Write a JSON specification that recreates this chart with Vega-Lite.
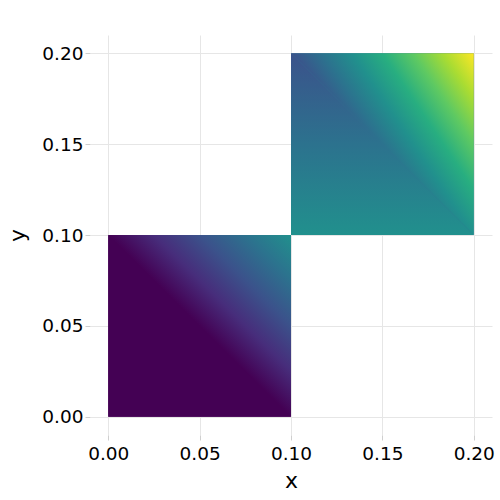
{
  "$schema": "https://vega.github.io/schema/vega-lite/v6.json",
  "autosize": {"type": "none"},
  "width": 402,
  "height": 400,
  "padding": {"left": 90, "top": 35, "right": 8, "bottom": 65},
  "background": "white",
  "config": {
    "view": {"stroke": null},
    "axis": {
      "domain": false,
      "gridColor": "#e6e6e6",
      "gridWidth": 1,
      "tickColor": "#cfcfcf",
      "tickSize": 5,
      "labelFont": "DejaVu Sans",
      "labelFontSize": 18.5,
      "labelColor": "#000000",
      "titleFont": "DejaVu Sans",
      "titleFontSize": 22,
      "titleFontWeight": "normal",
      "titleColor": "#000000"
    }
  },
  "datasets": {
    "squares": [
      {"square": "low", "x": 0.0, "x2": 0.1, "y": 0.0, "y2": 0.1},
      {"square": "high", "x": 0.1, "x2": 0.2, "y": 0.1, "y2": 0.2}
    ],
    "tris": [
      {"tri": "lowA", "x": 0.0, "y": 0.1, "y2": 0.0},
      {"tri": "lowA", "x": 0.1, "y": 0.0, "y2": 0.0},
      {"tri": "lowB", "x": 0.0, "y": 0.1, "y2": 0.1},
      {"tri": "lowB", "x": 0.1, "y": 0.1, "y2": 0.0},
      {"tri": "highA", "x": 0.1, "y": 0.2, "y2": 0.1},
      {"tri": "highA", "x": 0.2, "y": 0.1, "y2": 0.1},
      {"tri": "highB", "x": 0.1, "y": 0.2, "y2": 0.2},
      {"tri": "highB", "x": 0.2, "y": 0.2, "y2": 0.1}
    ]
  },
  "encoding": {
    "x": {"field": "x", "type": "quantitative", "title": "x",
      "scale": {"domain": [-0.01, 0.21], "nice": false, "zero": false},
      "axis": {"values": [0, 0.05, 0.1, 0.15, 0.2], "format": ".2f", "labelPadding": 4, "titlePadding": 8}},
    "y": {"field": "y", "type": "quantitative", "title": "y",
      "scale": {"domain": [-0.01, 0.21], "nice": false, "zero": false},
      "axis": {"values": [0, 0.05, 0.1, 0.15, 0.2], "format": ".2f", "labelPadding": 2, "titlePadding": 12}}
  },
  "layer": [
    {
      "data": {"name": "squares"},
      "mark": {"type": "rect", "opacity": 1},
      "encoding": {
        "x2": {"field": "x2"},
        "y2": {"field": "y2"},
        "color": {"field": "square", "type": "nominal", "legend": null,
          "scale": {"domain": ["low", "high"], "range": ["#440154", "#2c728e"]}}
      }
    },
    {
      "data": {"name": "tris"},
      "transform": [{"filter": "datum.tri === 'lowA'"}],
      "mark": {"type": "area", "opacity": 1, "color": "#440154"},
      "encoding": {"y2": {"field": "y2"}}
    },
    {
      "data": {"name": "tris"},
      "transform": [{"filter": "datum.tri === 'lowB'"}],
      "mark": {"type": "area", "opacity": 1,
        "color": {"gradient": "linear", "x1": 0.5, "y1": 0.5, "x2": 1, "y2": 0,
          "stops": [
            {"offset": 0, "color": "#440154"},
            {"offset": 0.25, "color": "#472d7b"},
            {"offset": 0.5, "color": "#3b528b"},
            {"offset": 0.75, "color": "#2c728e"},
            {"offset": 1, "color": "#21908d"}
          ]}},
      "encoding": {"y2": {"field": "y2"}}
    },
    {
      "data": {"name": "tris"},
      "transform": [{"filter": "datum.tri === 'highA'"}],
      "mark": {"type": "area", "opacity": 1,
        "color": {"gradient": "linear", "x1": 0, "y1": 1, "x2": 0, "y2": 0,
          "stops": [
            {"offset": 0, "color": "#21908d"},
            {"offset": 0.5, "color": "#2c728e"},
            {"offset": 1, "color": "#3b528b"}
          ]}},
      "encoding": {"y2": {"field": "y2"}}
    },
    {
      "data": {"name": "tris"},
      "transform": [{"filter": "datum.tri === 'highB'"}],
      "mark": {"type": "area", "opacity": 1,
        "color": {"gradient": "linear", "x1": 0, "y1": 0, "x2": 0.692, "y2": -0.4615,
          "stops": [
            {"offset": 0, "color": "#3b528b"},
            {"offset": 0.1667, "color": "#2c728e"},
            {"offset": 0.3333, "color": "#21908d"},
            {"offset": 0.5, "color": "#28ae80"},
            {"offset": 0.6667, "color": "#5ec962"},
            {"offset": 0.8333, "color": "#aadc32"},
            {"offset": 1, "color": "#fde725"}
          ]}},
      "encoding": {"y2": {"field": "y2"}}
    }
  ]
}
